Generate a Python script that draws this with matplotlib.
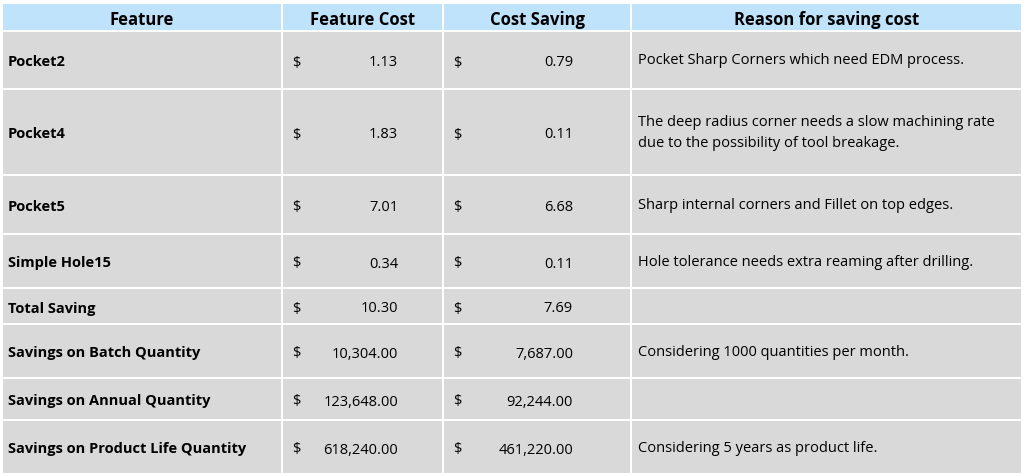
import matplotlib
matplotlib.use("Agg")
import matplotlib.pyplot as plt
from matplotlib.patches import Rectangle

headers = ["Feature", "Feature Cost", "Cost Saving", "Reason for saving cost"]
features = ["Pocket2", "Pocket4", "Pocket5", "Simple Hole15", "Total Saving",
            "Savings on Batch Quantity", "Savings on Annual Quantity",
            "Savings on Product Life Quantity"]
feature_cost = ["1.13", "1.83", "7.01", "0.34", "10.30", "10,304.00", "123,648.00", "618,240.00"]
cost_saving = ["0.79", "0.11", "6.68", "0.11", "7.69", "7,687.00", "92,244.00", "461,220.00"]
reasons = ["Pocket Sharp Corners which need EDM process.",
           "The deep radius corner needs a slow machining rate\ndue to the possibility of tool breakage.",
           "Sharp internal corners and Fillet on top edges.",
           "Hole tolerance needs extra reaming after drilling.",
           "",
           "Considering 1000 quantities per month.",
           "",
           "Considering 5 years as product life."]

W, H = 1024, 476
fig = plt.figure(figsize=(W/100, H/100), dpi=100)
ax = fig.add_axes([0, 0, 1, 1])
ax.set_xlim(0, W); ax.set_ylim(H, 0); ax.axis("off")

cols = [2, 282, 443, 631, 1022]
rows = [3, 31, 89, 175, 234, 288, 324, 378, 420, 474]
fam = ["Open Sans", "DejaVu Sans"]
gap = 2
fs = 10.5
for i in range(len(rows)-1):
    for j in range(4):
        color = "#bfe3fb" if i == 0 else "#d9d9d9"
        ax.add_patch(Rectangle((cols[j]+gap/2, rows[i]+gap/2), cols[j+1]-cols[j]-gap,
                               rows[i+1]-rows[i]-gap, color=color, lw=0))
for j, h in enumerate(headers):
    ax.text((cols[j]+cols[j+1])/2, (rows[0]+rows[1])/2+1, h, ha="center", va="center_baseline",
            fontsize=12, fontweight="bold", family=fam)
for i in range(len(features)):
    yc = (rows[i+1]+rows[i+2])/2 + 1
    ax.text(8, yc, features[i], ha="left", va="center_baseline", fontsize=fs, fontweight="bold", family=fam)
    ax.text(292, yc, "$", ha="left", va="center_baseline", fontsize=fs, family=fam)
    ax.text(398, yc, feature_cost[i], ha="right", va="center_baseline", fontsize=fs, family=fam)
    ax.text(453, yc, "$", ha="left", va="center_baseline", fontsize=fs, family=fam)
    ax.text(573, yc, cost_saving[i], ha="right", va="center_baseline", fontsize=fs, family=fam)
    ax.text(638, yc, reasons[i], ha="left", va="center", fontsize=fs, family=fam, linespacing=1.6)
fig.savefig("out.png", dpi=100)
